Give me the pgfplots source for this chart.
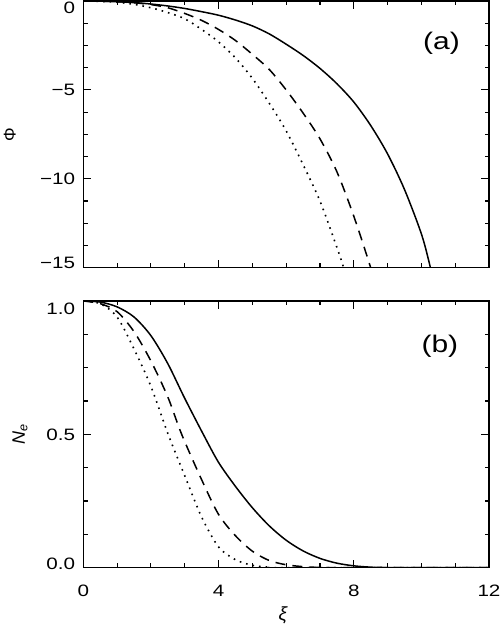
\documentclass[border=0pt]{standalone}
\usepackage{fontspec}
\setmainfont{Liberation Sans}
\newfontfamily\tickfont[FakeStretch=1.25]{Liberation Sans}
\usepackage{pgfplots}
\pgfplotsset{compat=1.18}

\pgfplotstableread{
x y
0 0
0.5 -0.01
1 -0.04
1.5 -0.09
2 -0.17
2.5 -0.28
3 -0.42
3.5 -0.6
4 -0.8
4.5 -1.07
5 -1.4
5.5 -1.85
6 -2.43
6.5 -3.06
7 -3.79
7.5 -4.65
8 -5.68
8.5 -7.0
9 -8.6
9.5 -10.6
10 -13.1
10.26 -14.94
10.5 -17
}\phisolid
\pgfplotstableread{
x y
0 0
0.5 -0.01
1 -0.04
1.5 -0.1
2 -0.2
2.5 -0.38
3 -0.7
3.5 -1.09
4 -1.6
4.5 -2.22
5 -3.0
5.5 -3.85
6 -5.0
6.5 -6.3
7 -7.75
7.5 -9.6
8 -12.1
8.5 -15.0
8.7 -16.4
}\phidashed
\pgfplotstableread{
x y
0 0
0.5 -0.02
1 -0.07
1.5 -0.19
2 -0.38
2.5 -0.65
3 -1.0
3.5 -1.6
4 -2.3
4.5 -3.2
5 -4.35
5.5 -5.75
6 -7.3
6.5 -9.2
7 -11.25
7.5 -13.85
7.7 -15.0
7.9 -16.3
}\phidotted
\pgfplotstableread{
x y
0 1.0
0.5 0.996
1 0.978
1.5 0.94
2 0.87
2.5 0.765
3 0.635
3.55 0.50
4 0.395
4.5 0.305
5 0.225
5.5 0.157
6 0.103
6.5 0.063
7 0.035
7.5 0.017
8 0.007
8.5 0.002
9 0.0005
10 0
12 0
}\nesolid
\pgfplotstableread{
x y
0 1.0
0.5 0.99
1 0.96
1.5 0.885
2 0.775
2.5 0.64
2.91 0.50
3.5 0.33
4 0.20
4.5 0.12
5 0.062
5.5 0.027
6 0.011
6.5 0.004
7 0.001
8 0
12 0
}\nedashed
\pgfplotstableread{
x y
0 1.0
0.5 0.99
1 0.94
1.5 0.82
2 0.68
2.51 0.50
3 0.345
3.5 0.19
4 0.078
4.5 0.03
5 0.009
5.5 0.002
6 0
12 0
}\nedotted

\newcommand{\lab}[2]{\raisebox{#1}[0pt][0pt]{#2}}

\begin{document}
\begin{tikzpicture}
\useasboundingbox (0,0) rectangle (500pt,630pt);
\pgfplotsset{
  every axis/.append style={
    scale only axis, width=405.7pt, height=266.7pt,
    xmin=0, xmax=12, xtick={0,4,8,12}, minor x tick num=3,
    tick align=inside, tick pos=both,
    major tick length=8pt, minor tick length=4.5pt,
    axis line style={line width=1.5pt},
    every tick/.style={line width=1.1pt, black},
    tick label style={font=\tickfont\fontsize{16.5}{19}\selectfont},
    xticklabel style={anchor=north, inner sep=0pt, yshift=-17pt},
    yticklabel style={anchor=east, inner sep=0pt, xshift=-8pt},
  },
}
\begin{axis}[at={(83.3pt,362.3pt)}, anchor=south west,
  ymin=-15, ymax=0, ytick={-15,-10,-5,0},
  yticklabels={\lab{-1pt}{−15},\lab{-6pt}{−10},\lab{-6pt}{−5},\lab{-12.5pt}{0}},
  minor y tick num=3, xticklabels={},
  ylabel={Φ},
  ylabel style={at={(axis description cs:-0.181,0.5)}, anchor=center, font=\fontsize{17}{20}\selectfont},
]
\addplot[line width=1.5pt, black, smooth] table[x=x,y=y] {\phisolid};
\addplot[line width=1.5pt, black, smooth, dash pattern=on 10pt off 7pt] table[x=x,y=y] {\phidashed};
\addplot[line width=1.6pt, black, smooth, dash pattern=on 1.6pt off 5pt] table[x=x,y=y] {\phidotted};
\node[font=\tickfont\fontsize{24}{28}\selectfont] at (axis description cs:0.883,0.841) {(a)};
\end{axis}
\begin{axis}[at={(83.3pt,62.3pt)}, anchor=south west,
  ymin=0, ymax=1, ytick={0,0.5,1},
  yticklabels={\lab{-2pt}{0.0},\lab{-6pt}{0.5},\lab{-14pt}{1.0}},
  minor y tick num=3, xticklabels={0,4,8,12},
  xlabel={\textit{ξ}},
  xlabel style={at={(axis description cs:0.493,-0.18)}, anchor=center, font=\fontsize{19}{22}\selectfont},
  ylabel={\textit{N}\textsubscript{\textit{e}}},
  ylabel style={at={(axis description cs:-0.156,0.5)}, anchor=center, font=\fontsize{18}{21}\selectfont},
]
\addplot[line width=1.5pt, black, smooth] table[x=x,y=y] {\nesolid};
\addplot[line width=1.5pt, black, smooth, dash pattern=on 10pt off 7pt] table[x=x,y=y] {\nedashed};
\addplot[line width=1.6pt, black, smooth, dash pattern=on 1.6pt off 5pt] table[x=x,y=y] {\nedotted};
\node[font=\tickfont\fontsize{24}{28}\selectfont] at (axis description cs:0.879,0.831) {(b)};
\end{axis}
\end{tikzpicture}
\end{document}
